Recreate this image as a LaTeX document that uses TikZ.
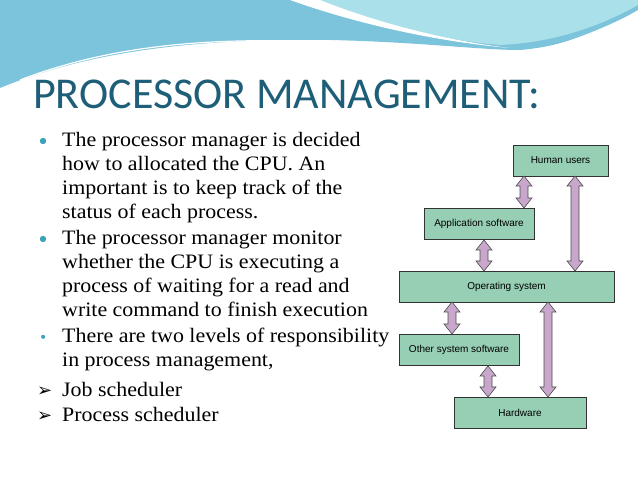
\documentclass[tikz,border=0pt]{standalone}
\usepackage{fontspec}
\setmainfont{Liberation Serif}[FakeStretch=1.07]
\newfontfamily\titlefont{Carlito}
\newfontfamily\diagfont{Liberation Sans}
\newfontfamily\symfont{DejaVu Sans}
\definecolor{teal1}{HTML}{1E5E78}
\definecolor{boxg}{HTML}{96CFB4}
\definecolor{arrp}{HTML}{C9A6CC}
\definecolor{wave1}{HTML}{7CC3DC}
\definecolor{wave2}{HTML}{A9E0EA}
\definecolor{bul}{HTML}{3AA3B8}
\tikzset{
 box/.style={draw=black!80, line width=0.8pt, fill=boxg, minimum height=31pt, font=\diagfont\fontsize{10}{11}\selectfont, inner sep=0pt},
 fat/.style={draw=black!70, fill=arrp, line width=0.6pt},
 btxt/.style={anchor=base west, inner sep=0pt, font=\fontsize{20.5}{21}\selectfont},
}
\newcommand{\fatarr}[3]{% x, y1, y2
 \path[fat] (#1-4,#2+10) -- (#1-8,#2+10) -- (#1,#2) -- (#1+8,#2+10) -- (#1+4,#2+10) -- (#1+4,#3-10) -- (#1+8,#3-10) -- (#1,#3) -- (#1-8,#3-10) -- (#1-4,#3-10) -- cycle;}
\begin{document}
\begin{tikzpicture}[x=1pt,y=-1pt]
\useasboundingbox (0,0) rectangle (638,478);
\fill[white] (0,0) rectangle (638,478);
% waves
\fill[wave1] (0,0) -- (0,88) .. controls (80,55) and (180,38) .. (330,40) .. controls (420,42) and (480,50) .. (520,50) .. controls (580,45) and (620,20) .. (638,10) -- (638,0) -- cycle;
\fill[wave2] (300,0) .. controls (380,25) and (440,40) .. (500,45) .. controls (570,42) and (620,15) .. (638,5) -- (638,0) -- cycle;
\fill[white] (290,0) .. controls (360,25) and (440,42) .. (510,48) .. controls (440,40) and (370,20) .. (320,0) -- cycle;
\draw[white, line width=1.2pt] (20,80) .. controls (150,30) and (300,35) .. (470,55) .. controls (540,60) and (600,30) .. (638,12);
% title
\node[anchor=base west, inner sep=0pt, text=teal1, font=\titlefont\fontsize{44}{46}\selectfont] (title) at (33,109) {PROCESSOR MANAGEMENT:};
% bullets
\foreach \y in {147,245} \fill[bul] (43,\y-6) circle (3.2);
\node[btxt, text=bul] (b3) at (39,343) {\fontsize{14}{14}\selectfont\symfont •};
\foreach \y/\t in {147/The processor manager is decided, 171/how to allocated the CPU. An, 195/important is to keep track of the, 219/status of each process., 245/The processor manager monitor, 269/whether the CPU is executing a, 293/process of waiting for a read and, 317/write command to finish execution, 343/There are two levels of responsibility, 367/{in process management,}}
 \node[btxt] at (62,\y) {\t};
\node[btxt] (c1) at (37,397) {\symfont\fontsize{18}{18}\selectfont ➢};
\node[btxt] (c2) at (37,422) {\symfont\fontsize{18}{18}\selectfont ➢};
\node[btxt] (j) at (62,397) {Job scheduler};
\node[btxt] (p) at (62,422) {Process scheduler};
% diagram
\fill[white] (393,137) rectangle (620,435);
\node[box, minimum width=95pt] (hu) at (560.5,160.5) {Human users};
\node[box, minimum width=110pt] (app) at (479,224) {Application software};
\node[box, minimum width=215pt] (os) at (506.5,286.5) {Operating system};
\node[box, minimum width=120pt] (oth) at (459,350) {Other system software};
\node[box, minimum width=132pt] (hw) at (520,412.5) {Hardware};
\fatarr{524}{176}{208}
\fatarr{575}{176}{271}
\fatarr{484}{240}{271}
\fatarr{452}{302}{334}
\fatarr{548}{302}{397}
\fatarr{488}{366}{397}
\end{tikzpicture}
\end{document}
